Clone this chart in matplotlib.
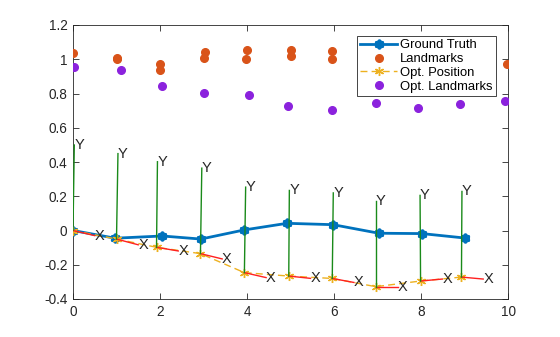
import numpy as np
import matplotlib
matplotlib.use("Agg")
import matplotlib.pyplot as plt
from matplotlib.legend_handler import HandlerTuple

plt.rcParams['font.family'] = ['Liberation Sans', 'DejaVu Sans']

# Ground truth trajectory
gt_x = [0.0, 0.97, 2.05, 2.94, 3.93, 4.92, 5.98, 7.03, 8.02, 9.01]
gt_y = [0.0, -0.045, -0.032, -0.05, 0.003, 0.042, 0.034, -0.016, -0.018, -0.044]

# Landmark observations
lm_x = [0.01, 1.02, 1.0, 2.0, 2.0, 3.01, 3.04, 4.01, 3.98, 5.01, 5.01, 5.96, 5.96, 9.97]
lm_y = [1.035, 1.01, 1.0, 0.972, 0.939, 1.009, 1.04, 1.054, 1.003, 1.054, 1.017, 1.046, 1.0, 0.971]

# Optimised positions and headings
op_x = [0.0, 1.0, 1.92, 2.93, 3.94, 4.96, 5.96, 6.96, 7.99, 8.93]
op_y = [0.0, -0.05, -0.098, -0.135, -0.246, -0.266, -0.28, -0.328, -0.295, -0.272]
op_th = [-0.06, -0.067, -0.043, -0.062, -0.058, -0.027, -0.047, 0.0, 0.023, -0.023]

# Optimised landmarks
ol_x = [0.03, 1.10, 2.04, 3.02, 4.05, 4.95, 5.96, 6.97, 7.94, 8.90, 9.92]
ol_y = [0.957, 0.935, 0.842, 0.801, 0.789, 0.725, 0.702, 0.743, 0.715, 0.737, 0.754]

axis_len = 0.5

fig = plt.figure(figsize=(5.6, 3.37), dpi=100)
ax = fig.add_axes([73/560, 38/337, 435/560, 274/337])

asterisk = (6, 2, 0)
blue = '#0072BD'
orange = '#D95319'
yellow = '#EDB120'
purple = '#8B22DD'
txt = '#262626'

h_gt, = ax.plot(gt_x, gt_y, color=blue, lw=2, marker=asterisk, ms=7, mew=1.6, zorder=3)
h_gt2, = ax.plot(gt_x, gt_y, ls='none', marker='o', ms=5.5, color=blue, mec=blue, zorder=3)
h_lm, = ax.plot(lm_x, lm_y, 'o', color=orange, ms=5.5, mec=orange, zorder=3)
h_op, = ax.plot(op_x, op_y, color=yellow, lw=1, ls=(0, (5, 3)), marker=asterisk, ms=6.5,
                mew=1, zorder=3)
h_ol, = ax.plot(ol_x, ol_y, 'o', color=purple, ms=5.5, mec=purple, zorder=3)

for x, y, th in zip(op_x, op_y, op_th):
    xe = x + axis_len * np.cos(th)
    ye = y + axis_len * np.sin(th)
    ax.plot([x, xe], [y, ye], color='#FF2020', lw=1, zorder=4)
    ax.text(xe, ye, 'X', ha='left', va='center', fontsize=10.5, color=txt, zorder=5)
    xg = x - axis_len * np.sin(th)
    yg = y + axis_len * np.cos(th)
    ax.plot([x, xg], [y, yg], color='#1A8A1A', lw=1, zorder=4)
    ax.text(xg, yg, 'Y', ha='left', va='center', fontsize=10.5, color=txt, zorder=5)

ax.set_xlim(0, 10)
ax.set_ylim(-0.4, 1.2)
ax.set_xticks([0, 2, 4, 6, 8, 10])
ax.set_yticks([-0.4, -0.2, 0, 0.2, 0.4, 0.6, 0.8, 1, 1.2])
ax.set_yticklabels(['-0.4', '-0.2', '0', '0.2', '0.4', '0.6', '0.8', '1', '1.2'])
ax.tick_params(direction='in', top=True, right=True, length=4, width=0.6,
               labelsize=9.8, colors=txt, pad=4)
for s in ax.spines.values():
    s.set_color(txt)
    s.set_linewidth(0.6)

leg = ax.legend([(h_gt, h_gt2), h_lm, h_op, h_ol],
                ['Ground Truth', 'Landmarks', 'Opt. Position', 'Opt. Landmarks'],
                handler_map={tuple: HandlerTuple(ndivide=1)},
                loc='upper right', bbox_to_anchor=(496/560, (337-36)/337),
                bbox_transform=fig.transFigure, borderaxespad=0,
                fontsize=9.4, frameon=True, fancybox=False, framealpha=1,
                edgecolor=txt, handlelength=2.8, handletextpad=0.25,
                labelspacing=0.12, borderpad=0.25)
leg.get_frame().set_linewidth(0.6)

fig.savefig('out.png', dpi=100)
